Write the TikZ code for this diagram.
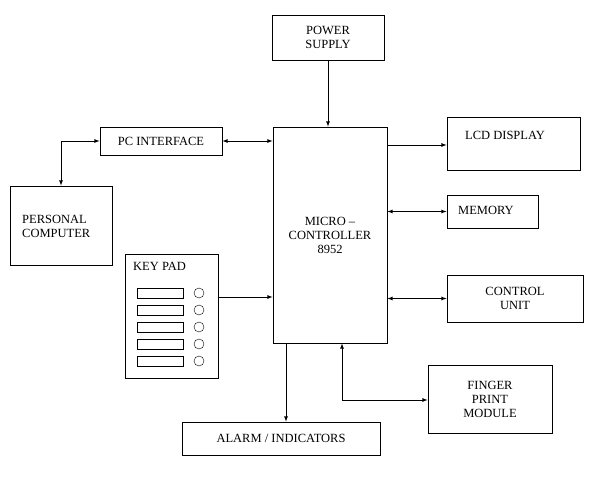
\documentclass[tikz,border=0pt]{standalone}
\usepackage{fontspec}
\setmainfont{Liberation Serif}
\begin{document}
\begin{tikzpicture}[x=1pt,y=-1pt,
 box/.style={draw,thick,align=center,inner sep=0pt,font=\fontsize{12.5}{14}\selectfont},
 lab/.style={font=\fontsize{12.5}{14}\selectfont,inner sep=0pt,align=left,anchor=west},
 ar/.style={-latex,thick},
 dar/.style={latex-latex,thick}]
\useasboundingbox (0,0) rectangle (600,481);
\node[box,minimum width=112,minimum height=45] (ps) at (328,37.5) {POWER\\SUPPLY};
\node[box,minimum width=114,minimum height=216] (mc) at (330,235) {MICRO --\\CONTROLLER\\8952};
\node[box,minimum width=122,minimum height=28] (pci) at (161,141) {PC INTERFACE};
\node[box,minimum width=102,minimum height=79] (pc) at (61,225.5) {};
\node[lab] (pct) at (22,226) {PERSONAL\\COMPUTER};
\node[box,minimum width=93,minimum height=124] (kp) at (171.5,316) {};
\node[lab] (kpt) at (133,266) {KEY PAD};
\node[box,minimum width=133,minimum height=53] (lcd) at (513.5,143.5) {};
\node[lab] (lcdt) at (465,135) {LCD DISPLAY};
\node[box,minimum width=91,minimum height=33] (mem) at (492.5,211.5) {};
\node[lab] (memt) at (458,210) {MEMORY};
\node[box,minimum width=136,minimum height=47] (cu) at (515,298.5) {CONTROL\\UNIT};
\node[box,minimum width=124,minimum height=68] (fp) at (490,399) {FINGER\\PRINT\\MODULE};
\node[box,minimum width=198,minimum height=33] (al) at (281,438.5) {ALARM / INDICATORS};
\foreach \y in {293,310,327,344,361}{
 \draw (137,\y-5) rectangle (183,\y+5);
 \draw (199,\y) circle (5);
}
\draw[ar] (ps) -- (mc.north -| ps);
\draw[dar] (pci.east) -- (pci.east -| mc.west);
\draw[dar] (pci.west) -| (pc.north);
\draw[ar] (kp.east |- 0,297) -- (mc.west |- 0,297);
\draw[ar] (mc.east |- 0,145) -- (lcd.west |- 0,145);
\draw[dar] (mc.east |- mem) -- (mem.west);
\draw[dar] (mc.east |- cu) -- (cu.west);
\draw[dar] (mc.south -| 342,0) |- (fp.west |- 0,400);
\draw[ar] (mc.south -| 286,0) -- (al.north -| 286,0);
\end{tikzpicture}
\end{document}
